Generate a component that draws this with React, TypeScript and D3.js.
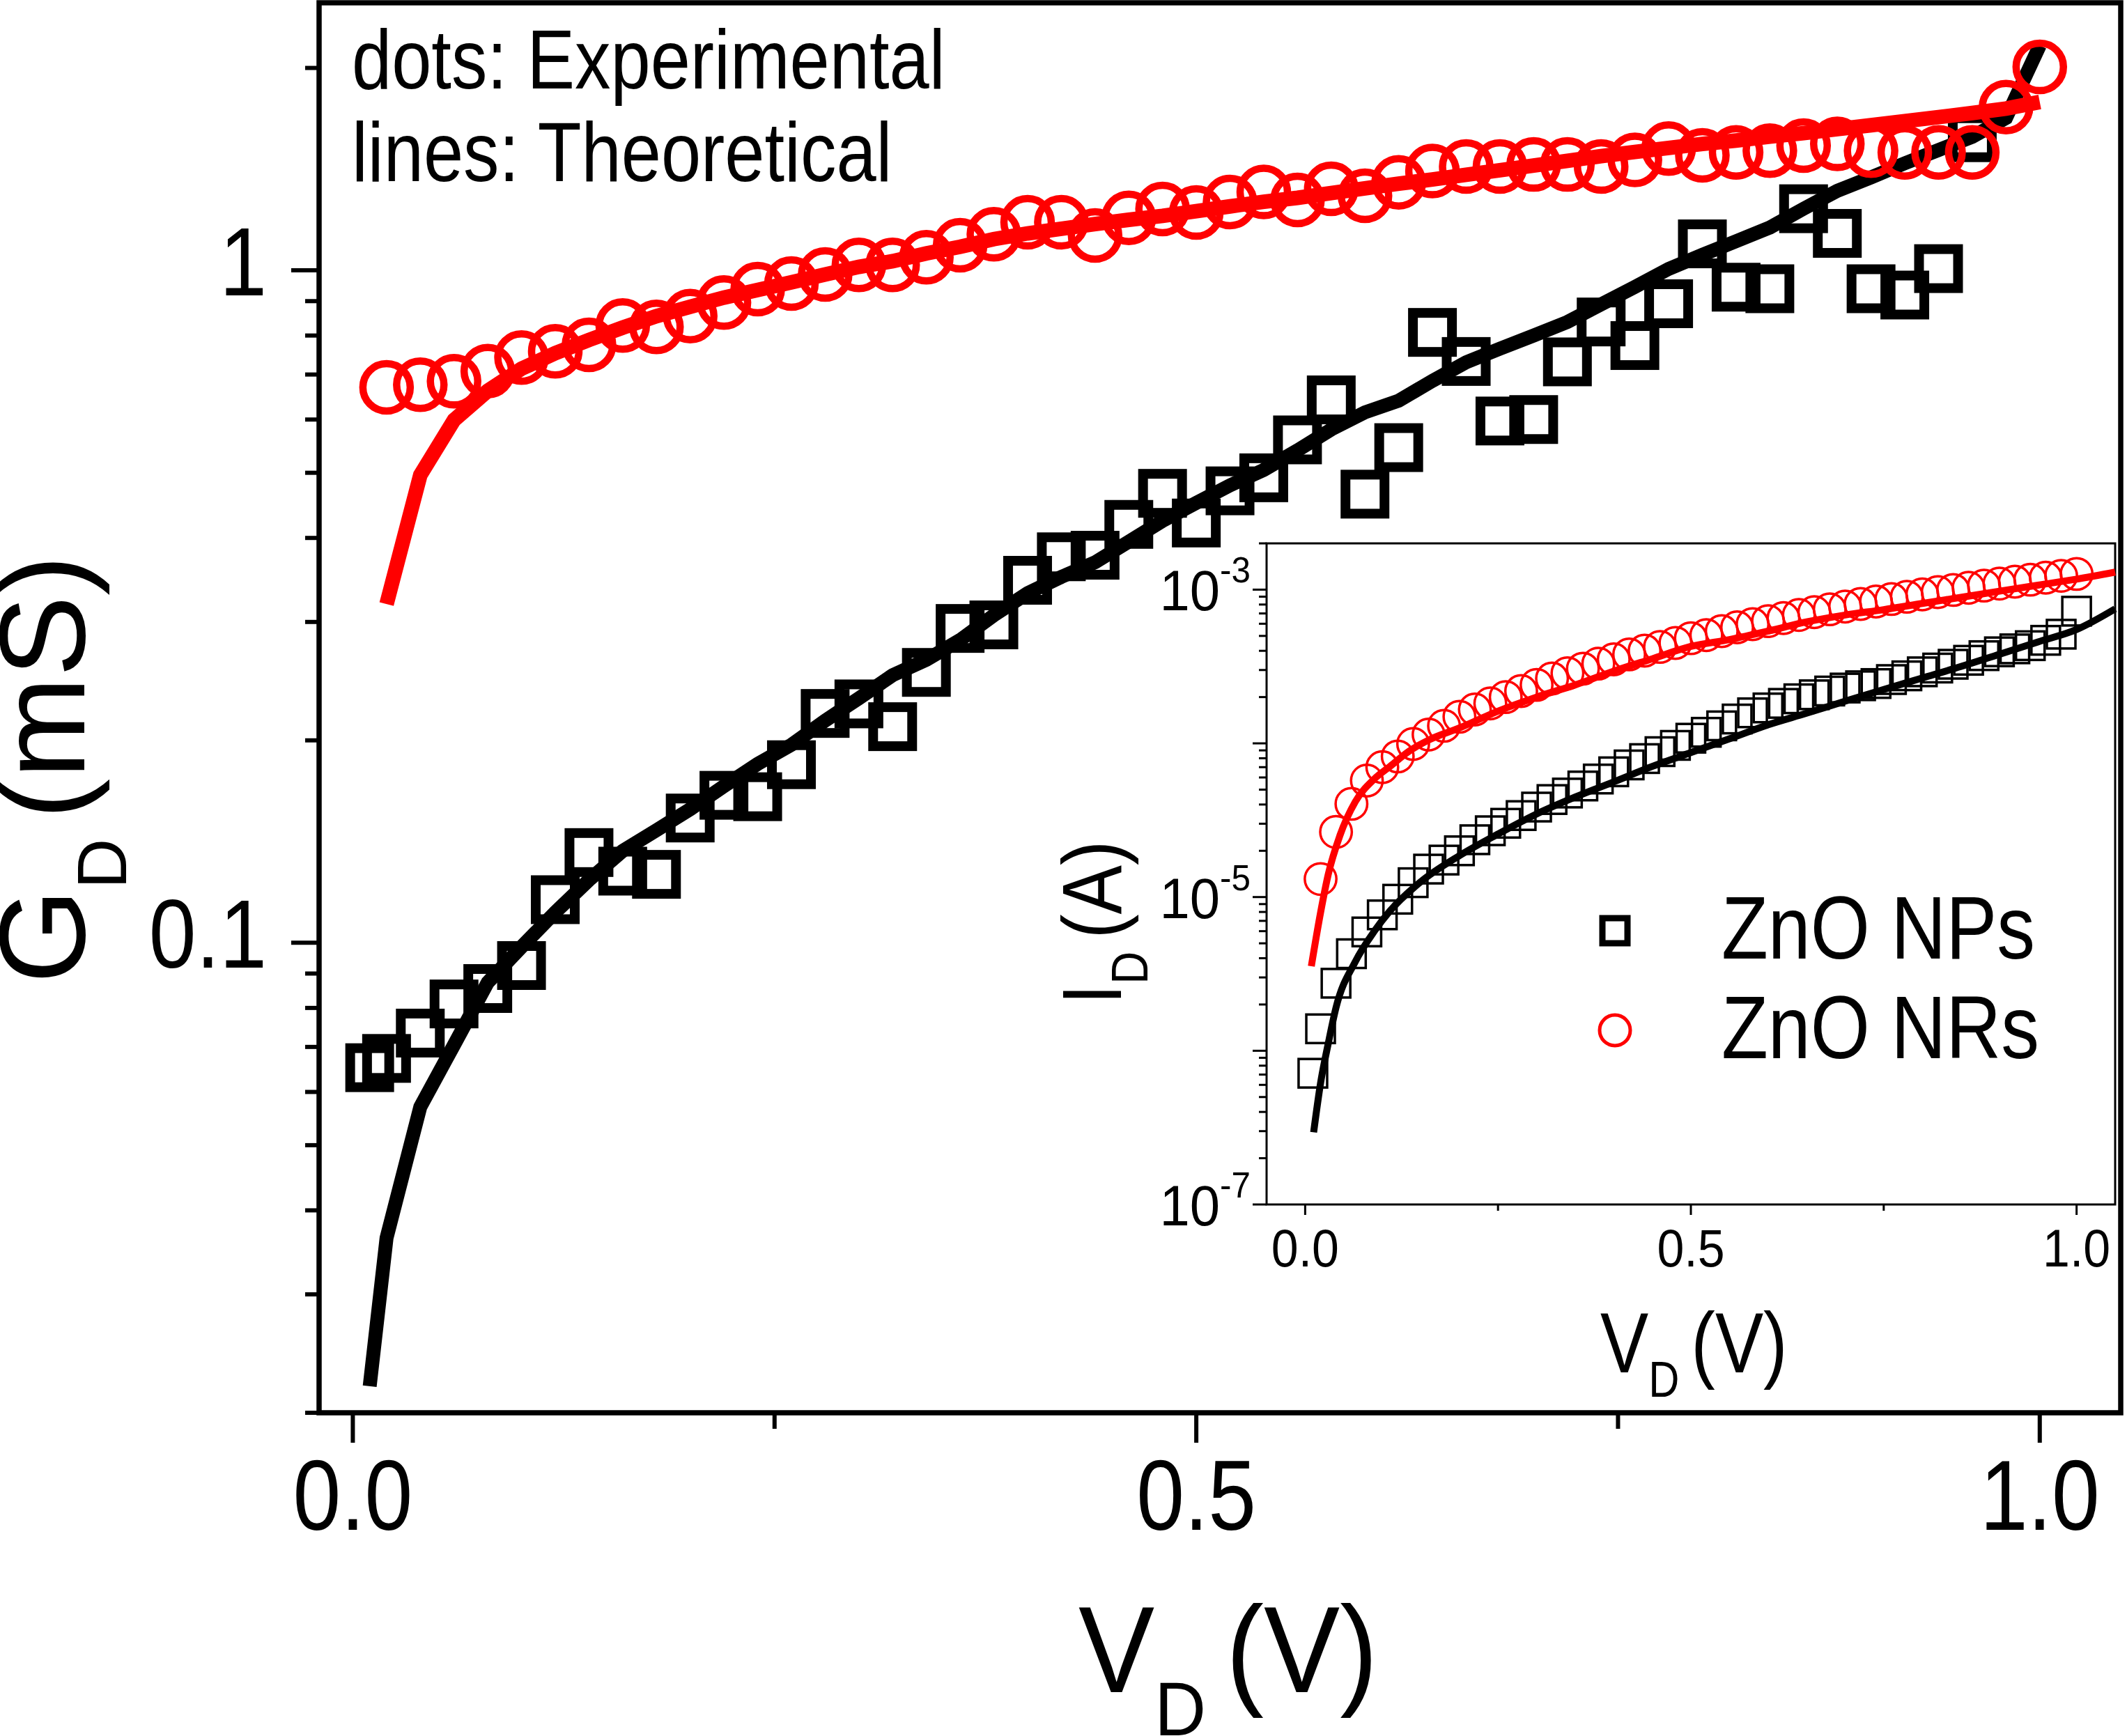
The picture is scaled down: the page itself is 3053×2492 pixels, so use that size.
import React from 'react';
import * as d3 from 'd3';

const W = 3053;
const H = 2492;
const FONT = "'Liberation Sans', Arial, Helvetica, sans-serif";
const RED = '#ff0000';

// ---- main panel: G_D (mS) vs V_D (V) ----
const npVoltage = [
  0.01, 0.02, 0.04, 0.06, 0.08, 0.1, 0.12, 0.14, 0.16, 0.18, 0.2, 0.22, 0.24, 0.26, 0.28, 0.3, 0.32,
  0.34, 0.36, 0.38, 0.4, 0.42, 0.44, 0.46, 0.48, 0.5, 0.52, 0.54, 0.56, 0.58, 0.6, 0.62, 0.64, 0.66,
  0.68, 0.7, 0.72, 0.74, 0.76, 0.78, 0.8, 0.82, 0.84, 0.86, 0.88, 0.9, 0.92, 0.94, 0.96,
];
const npConductance = [
  0.0652, 0.0673, 0.0734, 0.0811, 0.0855, 0.0925, 0.1159, 0.1362, 0.1278, 0.1264, 0.1533, 0.1657,
  0.1649, 0.184, 0.2193, 0.2266, 0.2096, 0.2524, 0.2934, 0.297, 0.346, 0.375, 0.377, 0.419, 0.466,
  0.421, 0.47, 0.4915, 0.5596, 0.6418, 0.4647, 0.545, 0.8086, 0.732, 0.597, 0.6, 0.731, 0.838, 0.773,
  0.892, 1.095, 0.944, 0.939, 1.235, 1.135, 0.939, 0.919, 1.006, 1.575,
];

const nrVoltage = [
  0.02, 0.04, 0.06, 0.08, 0.1, 0.12, 0.14, 0.16, 0.18, 0.2, 0.22, 0.24, 0.26, 0.28, 0.3, 0.32, 0.34,
  0.36, 0.38, 0.4, 0.42, 0.44, 0.46, 0.48, 0.5, 0.52, 0.54, 0.56, 0.58, 0.6, 0.62, 0.64, 0.66, 0.68,
  0.7, 0.72, 0.74, 0.76, 0.78, 0.8, 0.82, 0.84, 0.86, 0.88, 0.9, 0.92, 0.94, 0.96, 0.98, 1.0,
];
const nrConductance = [
  0.67, 0.676, 0.684, 0.708, 0.742, 0.758, 0.775, 0.828, 0.824, 0.855, 0.896, 0.938, 0.956, 0.986,
  1.019, 1.019, 1.046, 1.09, 1.132, 1.179, 1.179, 1.127, 1.197, 1.234, 1.219, 1.264, 1.308, 1.273,
  1.322, 1.291, 1.352, 1.405, 1.427, 1.427, 1.437, 1.437, 1.427, 1.46, 1.518, 1.483, 1.498, 1.507,
  1.533, 1.542, 1.507, 1.498, 1.498, 1.498, 1.749, 2.007,
];

const npTheoryVoltage = [0.01, ...nrVoltage];
const npTheoryConductance = [
  0.0219, 0.0364, 0.057, 0.0705, 0.0873, 0.0986, 0.111, 0.124, 0.137, 0.147, 0.158, 0.171, 0.1845,
  0.197, 0.214, 0.231, 0.25, 0.2635, 0.282, 0.307, 0.331, 0.35, 0.368, 0.395, 0.424, 0.451, 0.479,
  0.505, 0.54, 0.58, 0.615, 0.64, 0.685, 0.73, 0.765, 0.8, 0.838, 0.89, 0.945, 1.005, 1.055, 1.105,
  1.158, 1.235, 1.313, 1.375, 1.443, 1.51, 1.58, 1.685, 2.16,
];
const nrTheoryConductance = [
  0.319, 0.496, 0.599, 0.662, 0.714, 0.753, 0.788, 0.822, 0.855, 0.883, 0.911, 0.935, 0.96, 0.986,
  1.012, 1.032, 1.06, 1.084, 1.113, 1.135, 1.153, 1.172, 1.189, 1.205, 1.225, 1.245, 1.265, 1.282,
  1.303, 1.324, 1.346, 1.365, 1.387, 1.409, 1.432, 1.455, 1.479, 1.5, 1.521, 1.542, 1.56, 1.581, 1.6,
  1.622, 1.644, 1.667, 1.69, 1.714, 1.74, 1.78,
];

// ---- inset: I_D (A) vs V_D (V) ----
const npInsetVoltage = [...npVoltage, 0.98, 1.0];
const npCurrent = [
  7.14e-7, 1.39e-6, 2.75e-6, 4.28e-6, 5.93e-6, 7.66e-6, 9.68e-6, 1.24e-5, 1.52e-5, 1.74e-5, 2.0e-5,
  2.36e-5, 2.7e-5, 3.02e-5, 3.39e-5, 3.85e-5, 4.31e-5, 4.75e-5, 5.28e-5, 5.86e-5, 6.53e-5, 7.24e-5,
  7.96e-5, 8.83e-5, 9.7e-5, 1.08e-4, 1.18e-4, 1.3e-4, 1.44e-4, 1.58e-4, 1.7e-4, 1.82e-4, 1.95e-4,
  2.07e-4, 2.19e-4, 2.29e-4, 2.37e-4, 2.45e-4, 2.6e-4, 2.75e-4, 2.92e-4, 3.09e-4, 3.27e-4, 3.47e-4,
  3.72e-4, 3.94e-4, 4.12e-4, 4.32e-4, 4.68e-4, 5.13e-4, 7.24e-4,
];
const nrCurrent = [
  1.31e-5, 2.65e-5, 4.04e-5, 5.73e-5, 7.0e-5, 8.22e-5, 9.91e-5, 1.14e-4, 1.3e-4, 1.49e-4, 1.66e-4,
  1.82e-4, 2.0e-4, 2.19e-4, 2.4e-4, 2.64e-4, 2.86e-4, 3.06e-4, 3.3e-4, 3.52e-4, 3.79e-4, 4.01e-4,
  4.24e-4, 4.5e-4, 4.83e-4, 5.06e-4, 5.37e-4, 5.69e-4, 5.96e-4, 6.24e-4, 6.53e-4, 6.84e-4, 7.14e-4,
  7.45e-4, 7.76e-4, 8.07e-4, 8.37e-4, 8.69e-4, 8.99e-4, 9.31e-4, 9.64e-4, 9.95e-4, 1.028e-3,
  1.062e-3, 1.094e-3, 1.127e-3, 1.161e-3, 1.197e-3, 1.23e-3, 1.265e-3,
];

const npFitVoltage = [
  0.011, 0.02, 0.03, 0.04, 0.065, 0.09, 0.11, 0.15, 0.2, 0.25, 0.3, 0.35, 0.4, 0.45, 0.5, 0.55, 0.6,
  0.65, 0.7, 0.75, 0.8, 0.85, 0.9, 0.95, 1.0, 1.05,
];
const npFitCurrent = [
  2.95e-7, 6.17e-7, 1.12e-6, 1.91e-6, 3.8e-6, 6.03e-6, 8.13e-6, 1.26e-5, 1.86e-5, 2.57e-5, 3.47e-5,
  4.47e-5, 5.62e-5, 7.08e-5, 8.71e-5, 1.07e-4, 1.32e-4, 1.57e-4, 1.88e-4, 2.24e-4, 2.66e-4, 3.16e-4,
  3.8e-4, 4.57e-4, 5.5e-4, 7.5e-4,
];
const nrFitVoltage = [
  0.008, 0.02, 0.03, 0.045, 0.065, 0.09, 0.11, 0.135, 0.16, 0.2, 0.25, 0.3, 0.35, 0.4, 0.45, 0.5,
  0.55, 0.6, 0.65, 0.7, 0.75, 0.8, 0.85, 0.9, 0.95, 1.0, 1.05,
];
const nrFitCurrent = [
  3.55e-6, 7.94e-6, 1.41e-5, 2.51e-5, 4.17e-5, 5.89e-5, 7.08e-5, 8.91e-5, 1.05e-4, 1.26e-4, 1.62e-4,
  2.0e-4, 2.4e-4, 2.95e-4, 3.55e-4, 4.27e-4, 4.73e-4, 5.37e-4, 6.17e-4, 6.84e-4, 7.41e-4, 8.13e-4,
  8.91e-4, 9.77e-4, 1.07e-3, 1.17e-3, 1.3e-3,
];

const mainXTicks = [0, 0.5, 1.0];
const mainXMinor = [0.25, 0.75];
const mainYLabels = [0.1, 1];
const insetXTicks = [0, 0.5, 1.0];
const insetXMinor = [0.25, 0.75];
const insetYLabels = [1e-7, 1e-5, 1e-3];

const legendItems = ['ZnO NPs', 'ZnO NRs'];

type Pt = [number, number];
const pairs = (xs: number[], ys: number[]): Pt[] => xs.map((v, i) => [v, ys[i]]);

function Label({ x, y, size, sx = 1, rotate = 0, anchor = 'start', children }: any) {
  return (
    <g transform={`translate(${x},${y}) rotate(${rotate}) scale(${sx},1)`}>
      <text fontFamily={FONT} fontSize={size} textAnchor={anchor} fill="#000">
        {children}
      </text>
    </g>
  );
}

export default function App() {
  // main axes
  const x = d3.scaleLinear().domain([-0.02, 1.048]).range([458, 3044]);
  const y = d3.scaleLog().domain([0.02, 2.5]).range([2028, 4]);
  const [x0, x1] = x.range();
  const [yb, yt] = y.range();

  // inset axes
  const xi = d3.scaleLinear().domain([-0.05, 1.05]).range([1818, 3036]);
  const yi = d3.scaleLog().domain([1e-7, 2e-3]).range([1729, 780]);
  const [xi0, xi1] = xi.range();
  const [yib, yit] = yi.range();

  const mainLine = d3.line<Pt>().x((d) => x(d[0])).y((d) => y(d[1]));
  const insetLine = d3
    .line<Pt>()
    .x((d) => xi(d[0]))
    .y((d) => yi(d[1]))
    .curve(d3.curveMonotoneX);

  const isDecade = (v: number) => Math.abs(Math.log10(v) - Math.round(Math.log10(v))) < 1e-6;
  const yTicks = y.ticks();
  const yiTicks = yi.ticks();

  const npPts = pairs(npVoltage, npConductance);
  const nrPts = pairs(nrVoltage, nrConductance);
  const npInsetPts = pairs(npInsetVoltage, npCurrent);
  const nrInsetPts = pairs(nrVoltage, nrCurrent);

  return (
    <svg
      width={W}
      height={H}
      viewBox={`0 0 ${W} ${H}`}
      style={{ position: 'absolute', left: 0, top: 0, background: '#fff' }}
    >
      <rect x={0} y={0} width={W} height={H} fill="#fff" />

      {/* main frame */}
      <rect x={x0} y={yt} width={x1 - x0} height={yb - yt} fill="#fff" stroke="#000" strokeWidth={7.5} />

      {/* main x ticks */}
      {mainXTicks.map((t) => (
        <line key={'mx' + t} x1={x(t)} x2={x(t)} y1={yb} y2={yb + 43} stroke="#000" strokeWidth={6} />
      ))}
      {mainXMinor.map((t) => (
        <line key={'mxm' + t} x1={x(t)} x2={x(t)} y1={yb} y2={yb + 23} stroke="#000" strokeWidth={6} />
      ))}
      {/* main y ticks */}
      {yTicks.map((t) => (
        <line
          key={'my' + t}
          x1={x0 - (isDecade(t) ? 40 : 20)}
          x2={x0}
          y1={y(t)}
          y2={y(t)}
          stroke="#000"
          strokeWidth={6}
        />
      ))}

      {/* NPs theory + data */}
      <path d={mainLine(pairs(npTheoryVoltage, npTheoryConductance)) || ''} fill="none" stroke="#000" strokeWidth={20} />
      {npPts.map((d, i) => (
        <rect
          key={'nps' + i}
          x={x(d[0]) - 28}
          y={y(d[1]) - 28}
          width={56}
          height={56}
          fill="none"
          stroke="#000"
          strokeWidth={14}
        />
      ))}
      {/* NRs data + theory */}
      {nrPts.map((d, i) => (
        <circle key={'nrc' + i} cx={x(d[0])} cy={y(d[1])} r={34} fill="none" stroke={RED} strokeWidth={10.5} />
      ))}
      <path d={mainLine(pairs(nrVoltage, nrTheoryConductance)) || ''} fill="none" stroke={RED} strokeWidth={21} />

      {/* main tick labels */}
      {mainXTicks.map((t) => (
        <Label key={'mxl' + t} x={x(t)} y={2196} size={142} sx={0.87} anchor="middle">
          {d3.format('.1f')(t)}
        </Label>
      ))}
      {mainYLabels.map((t) => (
        <Label key={'myl' + t} x={383} y={y(t) + 36} size={140} sx={0.87} anchor="end">
          {String(t)}
        </Label>
      ))}

      {/* main axis titles */}
      <Label x={1548} y={2429} size={176} sx={0.93}>
        V<tspan fontSize={110} dy={62}>D </tspan>
        <tspan fontSize={176} dy={-62}>(V)</tspan>
      </Label>
      <Label x={121} y={1412} size={175} rotate={-90}>
        G<tspan fontSize={100} dy={60}>D </tspan>
        <tspan fontSize={175} dy={-60}>(mS)</tspan>
      </Label>

      <Label x={505} y={127} size={120} sx={0.857}>dots: Experimental</Label>
      <Label x={505} y={260} size={120} sx={0.857}>lines: Theoretical</Label>

      {/* inset */}
      <rect x={xi0} y={yit} width={xi1 - xi0} height={yib - yit} fill="#fff" stroke="#000" strokeWidth={3} />
      {insetXTicks.map((t) => (
        <line key={'ix' + t} x1={xi(t)} x2={xi(t)} y1={yib} y2={yib + 15} stroke="#000" strokeWidth={3} />
      ))}
      {insetXMinor.map((t) => (
        <line key={'ixm' + t} x1={xi(t)} x2={xi(t)} y1={yib} y2={yib + 9} stroke="#000" strokeWidth={3} />
      ))}
      {yiTicks.map((t) => (
        <line
          key={'iy' + t}
          x1={xi0 - (isDecade(t) ? 20 : 11)}
          x2={xi0}
          y1={yi(t)}
          y2={yi(t)}
          stroke="#000"
          strokeWidth={3}
        />
      ))}

      {npInsetPts.map((d, i) => (
        <rect
          key={'ins' + i}
          x={xi(d[0]) - 20.5}
          y={yi(d[1]) - 20.5}
          width={41}
          height={41}
          fill="none"
          stroke="#000"
          strokeWidth={3.5}
        />
      ))}
      <path d={insetLine(pairs(npFitVoltage, npFitCurrent)) || ''} fill="none" stroke="#000" strokeWidth={10} />
      {nrInsetPts.map((d, i) => (
        <circle key={'inc' + i} cx={xi(d[0])} cy={yi(d[1])} r={22.7} fill="none" stroke={RED} strokeWidth={3.5} />
      ))}
      <path d={insetLine(pairs(nrFitVoltage, nrFitCurrent)) || ''} fill="none" stroke={RED} strokeWidth={10} />

      {insetXTicks.map((t) => (
        <Label key={'ixl' + t} x={xi(t)} y={1818} size={76} sx={0.92} anchor="middle">
          {d3.format('.1f')(t)}
        </Label>
      ))}
      {insetYLabels.map((t) => (
        <Label key={'iyl' + t} x={1795} y={yi(t) + 30} size={82} sx={0.95} anchor="end">
          10<tspan fontSize={52} dy={-40}>{`-${Math.round(-Math.log10(t))}`}</tspan>
        </Label>
      ))}
      <Label x={2297} y={1970} size={122} sx={0.85}>
        V<tspan fontSize={72} dy={35}>D </tspan>
        <tspan fontSize={122} dy={-35}>(V)</tspan>
      </Label>
      <Label x={1609} y={1442} size={120} sx={0.88} rotate={-90}>
        I<tspan fontSize={74} dy={38}>D </tspan>
        <tspan fontSize={120} dy={-38}>(A)</tspan>
      </Label>

      {/* legend */}
      <rect x={2318 - 18} y={1336 - 18} width={36} height={36} fill="none" stroke="#000" strokeWidth={9} />
      <circle cx={2318} cy={1479} r={22} fill="none" stroke={RED} strokeWidth={5} />
      {legendItems.map((s, i) => (
        <Label key={s} x={2471} y={1376 + i * 143} size={128} sx={0.855}>
          {s}
        </Label>
      ))}
    </svg>
  );
}
